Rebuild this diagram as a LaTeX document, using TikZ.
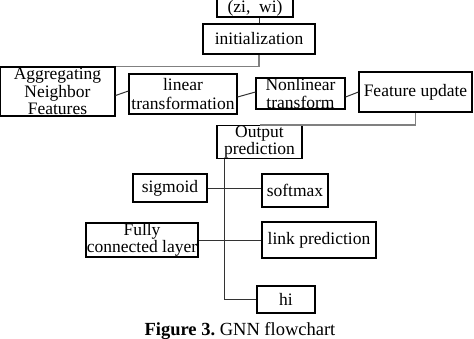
\documentclass[tikz,border=0pt]{standalone}
\usepackage{fontspec}
\setmainfont{Liberation Serif}
\usepackage{tikz}
\usetikzlibrary{calc}

\tikzset{
  flowbox/.style={draw, line width=1.1pt, inner sep=0pt, align=center,
    font=\fontsize{17.5}{17.5}\selectfont},
  wire/.style={draw=black!80, line width=1pt},
  greywire/.style={draw=black!50, line width=1.3pt}
}

\begin{document}
\begin{tikzpicture}[x=1pt, y=-1pt]
  \useasboundingbox (0,0) rectangle (474,338);

  %% Input and initialization
  \node[flowbox, minimum width=76pt, minimum height=18pt] (zw) at (255,8) {(zi,\ \ wi)};
  \node[flowbox, minimum width=112pt, minimum height=30pt] (init) at (259,39) {initialization};

  %% Message passing row
  \node[flowbox, minimum width=115pt, minimum height=49pt] (agg) at (57.5,91.5)
    {Aggregating\\Neighbor\\Features};
  \node[flowbox, minimum width=108pt, minimum height=40pt,
    font=\fontsize{17.5}{19}\selectfont] (lin) at (183,94)
    {linear\\transformation};
  \node[flowbox, minimum width=89pt, minimum height=31pt] (nonlin) at (300.5,93.5)
    {Nonlinear\\transform};
  \node[flowbox, minimum width=113pt, minimum height=40pt] (upd) at (415.5,92) {Feature update};

  %% Output
  \node[flowbox, minimum width=85pt, minimum height=32pt] (out) at (259.5,142) {Output\\prediction};
  \node[flowbox, minimum width=74pt, minimum height=28pt] (sig) at (170,188) {sigmoid};
  \node[flowbox, minimum width=66pt, minimum height=33pt] (soft) at (295,190.5) {softmax};
  \node[flowbox, minimum width=112pt, minimum height=34pt] (fc) at (142,240) {Fully\\connected layer};
  \node[flowbox, minimum width=114pt, minimum height=36pt] (lnk) at (319,240) {link prediction};
  \node[flowbox, minimum width=58pt, minimum height=27pt] (hi) at (286,299.5) {hi};

  %% Caption
  \node[font=\fontsize{18.5}{18.5}\selectfont] (cap) at (240,331)
    {\textbf{Figure 3.}\ GNN flowchart};

  %% Connectors
  \draw[wire] (init.north) -- (init.north |- zw.south);
  \draw[greywire] (init.south) |- (agg.north east);
  \draw[wire] ([yshift=-4pt]agg.east) -- ([yshift=3pt]lin.west);
  \draw[wire] ([yshift=-3pt]lin.east) -- ([yshift=1.5pt]nonlin.west);
  \draw[wire] ([yshift=-3.5pt]nonlin.east) -- (upd.west);
  \draw[greywire] (upd.south) |- (out.north);

  \coordinate (trunk) at ([xshift=8pt]out.south west);
  \draw[wire] (trunk) |- (hi.west);
  \draw[wire] (sig.east) -- (sig.east -| soft.west);
  \draw[wire] (fc.east) -- (lnk.west);

\end{tikzpicture}
\end{document}
